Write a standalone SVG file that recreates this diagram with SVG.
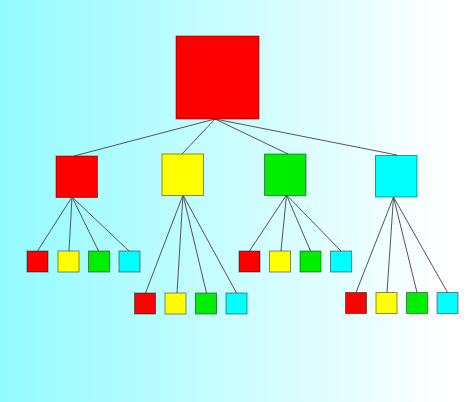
<svg xmlns="http://www.w3.org/2000/svg" width="474" height="402" viewBox="0 0 474 402">
<defs>
<linearGradient id="bg" x1="0" y1="0" x2="1" y2="0">
<stop offset="0" stop-color="#92fbff"/>
<stop offset="0.95" stop-color="#ffffff"/>
</linearGradient>
</defs>
<style>
.n{stroke:#000;stroke-opacity:0.45;stroke-width:1}
.r{fill:#ff0000}.y{fill:#ffff00}.g{fill:#00ee00}.c{fill:#00ffff}
.e line{stroke:#555;stroke-width:1}
</style>
<rect x="0" y="0" width="474" height="402" fill="url(#bg)"/>
<g id="connectors" class="e">
<line x1="215" y1="119" x2="74" y2="156"/>
<line x1="215" y1="119" x2="182" y2="154"/>
<line x1="215" y1="119" x2="288" y2="154"/>
<line x1="215" y1="119" x2="397" y2="155"/>
<line x1="72" y1="197" x2="37.5" y2="251"/>
<line x1="72" y1="197" x2="69" y2="251"/>
<line x1="72" y1="197" x2="98.5" y2="251"/>
<line x1="72" y1="197" x2="129" y2="251"/>
<line x1="183" y1="195" x2="145.5" y2="293"/>
<line x1="183" y1="195" x2="177" y2="293"/>
<line x1="183" y1="195" x2="206.5" y2="293"/>
<line x1="183" y1="195" x2="236.5" y2="293"/>
<line x1="286.5" y1="195" x2="249.5" y2="251"/>
<line x1="286.5" y1="195" x2="281" y2="251"/>
<line x1="286.5" y1="195" x2="310.5" y2="251"/>
<line x1="286.5" y1="195" x2="341" y2="251"/>
<line x1="393.5" y1="197" x2="356" y2="292.5"/>
<line x1="393.5" y1="197" x2="387" y2="292.5"/>
<line x1="393.5" y1="197" x2="417" y2="292.5"/>
<line x1="393.5" y1="197" x2="447.5" y2="292.5"/>
</g>
<g id="root"><rect class="n r" x="176" y="36" width="83" height="83"/></g>
<g id="n1"><rect class="n r" x="56" y="156" width="41.5" height="41.5"/></g>
<g id="n2"><rect class="n y" x="162" y="154" width="41.5" height="41.5"/></g>
<g id="n3"><rect class="n g" x="264.5" y="154" width="41.5" height="41.5"/></g>
<g id="n4"><rect class="n c" x="375.5" y="155.5" width="41.5" height="41.5"/></g>
<g id="n1a"><rect class="n r" x="27" y="251" width="21" height="21"/></g>
<g id="n1b"><rect class="n y" x="58" y="251" width="21" height="21"/></g>
<g id="n1c"><rect class="n g" x="88.5" y="251" width="21" height="21"/></g>
<g id="n1d"><rect class="n c" x="119" y="251" width="21" height="21"/></g>
<g id="n2a"><rect class="n r" x="134.5" y="293" width="21" height="21"/></g>
<g id="n2b"><rect class="n y" x="165" y="293" width="21" height="21"/></g>
<g id="n2c"><rect class="n g" x="195.5" y="293" width="21" height="21"/></g>
<g id="n2d"><rect class="n c" x="226" y="293" width="21" height="21"/></g>
<g id="n3a"><rect class="n r" x="239" y="251" width="21" height="21"/></g>
<g id="n3b"><rect class="n y" x="269.5" y="251" width="21" height="21"/></g>
<g id="n3c"><rect class="n g" x="300" y="251" width="21" height="21"/></g>
<g id="n3d"><rect class="n c" x="330.5" y="251" width="21" height="21"/></g>
<g id="n4a"><rect class="n r" x="345.5" y="292.5" width="21" height="21"/></g>
<g id="n4b"><rect class="n y" x="376" y="292.5" width="21" height="21"/></g>
<g id="n4c"><rect class="n g" x="406.5" y="292.5" width="21" height="21"/></g>
<g id="n4d"><rect class="n c" x="437" y="292.5" width="21" height="21"/></g>
</svg>
